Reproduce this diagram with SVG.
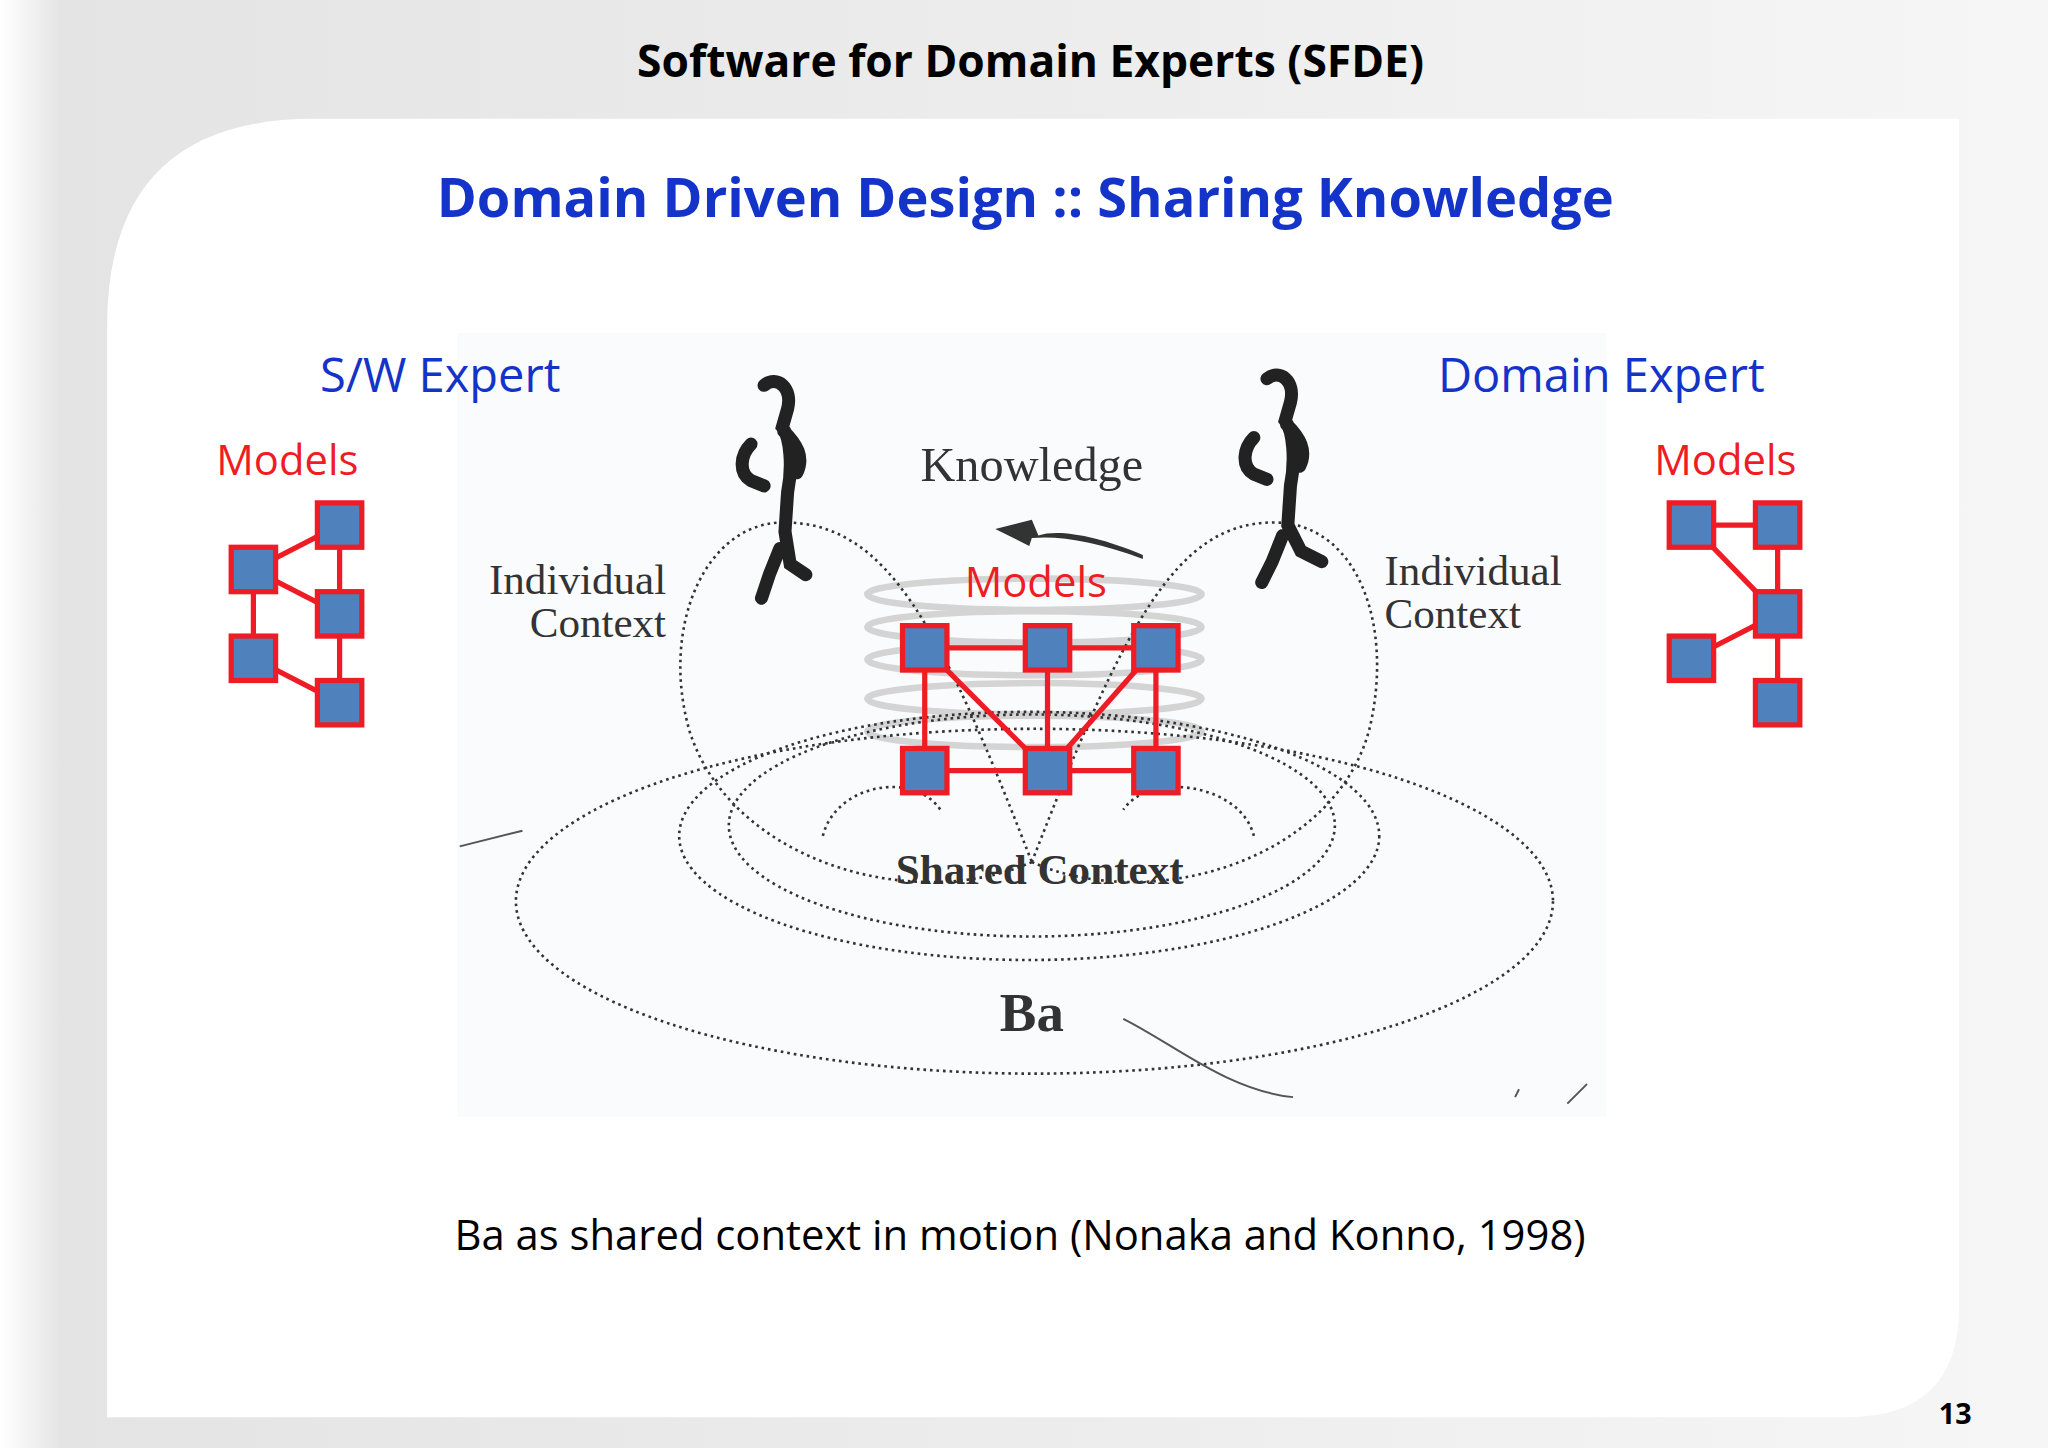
<svg xmlns="http://www.w3.org/2000/svg" width="2048" height="1448" viewBox="0 0 2048 1448">
<defs>
<linearGradient id="bg" x1="0" y1="0" x2="1" y2="0"><stop offset="0" stop-color="#ffffff"/><stop offset="0.03" stop-color="#e4e4e4"/><stop offset="0.5" stop-color="#ececec"/><stop offset="1" stop-color="#f6f6f6"/></linearGradient>
<style>
.n rect{fill:#4f81bd;stroke:#ee1c24;stroke-width:4}
.e line{stroke:#ee1c24;stroke-width:4}
.sans{font-family:"Open Sans","Noto Sans",sans-serif}
.serif{font-family:"Liberation Serif",serif;fill:#333}
.dot{fill:none;stroke:#333;stroke-width:2;stroke-dasharray:2 3}
.coil{fill:none;stroke:#d4d4d4;stroke-width:5}
</style>
</defs>
<g transform="scale(1.30612)">
<rect x="0" y="0" width="1568" height="1109" fill="url(#bg)"/>
<path d="M240 91 H1500 V1000 Q1500 1085 1415 1085 H82 V250 Q82 91 240 91 Z" fill="#fff"/>
<text class="sans" x="789" y="59" font-size="34" font-weight="bold" text-anchor="middle">Software for Domain Experts (SFDE)</text>
<text class="sans" x="785" y="166" font-size="41.5" font-weight="bold" fill="#1433c8" text-anchor="middle">Domain Driven Design :: Sharing Knowledge</text>
<g id="picture">
<rect x="350" y="255" width="880" height="600" fill="#fafbfc"/>
<ellipse class="coil" cx="792" cy="455" rx="128" ry="12"/>
<ellipse class="coil" cx="792" cy="480" rx="128" ry="12"/>
<ellipse class="coil" cx="792" cy="505" rx="128" ry="12"/>
<ellipse class="coil" cx="792" cy="535" rx="128" ry="12"/>
<ellipse class="coil" cx="792" cy="560" rx="128" ry="12"/>
<ellipse class="dot" cx="792" cy="690" rx="397" ry="132"/>
<ellipse class="dot" cx="788" cy="640" rx="268" ry="95"/>
<ellipse class="dot" cx="790" cy="632" rx="232" ry="85"/>
<path class="dot" d="M790 660 C700 700 560 660 528 560 C505 480 540 400 600 400 C680 400 720 480 790 660 Z"/>
<path class="dot" d="M790 660 C880 700 1020 660 1048 560 C1068 480 1040 400 975 400 C900 400 860 480 790 660 Z"/>
<path class="dot" d="M630 640 C640 600 700 590 720 620 M960 640 C950 600 880 590 860 620"/>
<path d="M585 295 c10 -8 22 2 18 18 l-4 14 c6 8 8 30 4 50 l-2 30 4 25 12 8 M597 420 l-8 20 -6 18 M575 340 c-8 8 -10 22 0 28 l10 4 M600 330 c10 10 16 20 10 32" fill="none" stroke="#222" stroke-width="10" stroke-linecap="round"/>
<path d="M970 290 c10 -8 22 2 18 18 l-4 14 c6 8 8 30 4 50 l-2 30 10 20 16 8 M982 410 l-8 20 -8 16 M960 335 c-8 8 -10 22 0 28 l10 4 M985 325 c10 10 16 20 10 32" fill="none" stroke="#222" stroke-width="10" stroke-linecap="round"/>
<path d="M875 425 C840 410 810 405 795 410 L790 398 L762 405 L788 418 L790 412 C812 410 840 415 875 428 Z" fill="#333"/>
<path d="M352 648 L400 636 M860 780 C900 800 940 835 990 840 M1160 840 l3 -6 M1200 845 l15 -15" fill="none" stroke="#555" stroke-width="1.5"/>
<text class="serif" x="790" y="368" font-size="37" text-anchor="middle">Knowledge</text>
<text class="serif" x="510" y="455" font-size="33" text-anchor="end">Individual</text>
<text class="serif" x="510" y="488" font-size="33" text-anchor="end">Context</text>
<text class="serif" x="1060" y="448" font-size="33">Individual</text>
<text class="serif" x="1060" y="481" font-size="33">Context</text>
<text class="serif" x="796" y="677" font-size="33" font-weight="bold" text-anchor="middle">Shared Context</text>
<text class="serif" x="790" y="789" font-size="42" font-weight="bold" text-anchor="middle">Ba</text>
</g>
<text class="sans" x="337" y="300" font-size="36" fill="#1433c8" text-anchor="middle">S/W Expert</text>
<text class="sans" x="1226" y="300" font-size="36" fill="#1433c8" text-anchor="middle">Domain Expert</text>
<text class="sans" x="220" y="364" font-size="32" fill="#ee1c24" text-anchor="middle">Models</text>
<text class="sans" x="1321" y="364" font-size="32" fill="#ee1c24" text-anchor="middle">Models</text>
<text class="sans" x="793" y="457" font-size="32" fill="#ee1c24" text-anchor="middle">Models</text>
<g id="connectors" class="e">
<line x1="194" y1="436" x2="260" y2="402"/><line x1="194" y1="436" x2="260" y2="470"/><line x1="194" y1="436" x2="194" y2="504"/><line x1="260" y1="402" x2="260" y2="538"/><line x1="194" y1="504" x2="260" y2="538"/>
<line x1="1295" y1="402" x2="1361" y2="402"/><line x1="1295" y1="402" x2="1361" y2="470"/><line x1="1361" y1="402" x2="1361" y2="538"/><line x1="1361" y1="470" x2="1295" y2="504"/>
<line x1="708" y1="496" x2="885" y2="496"/><line x1="708" y1="590" x2="885" y2="590"/><line x1="708" y1="496" x2="708" y2="590"/><line x1="802" y1="496" x2="802" y2="590"/><line x1="885" y1="496" x2="885" y2="590"/><line x1="708" y1="496" x2="802" y2="590"/><line x1="885" y1="496" x2="802" y2="590"/>
</g>
<g class="n">
<g id="l1"><rect x="177" y="419" width="34" height="34"/></g>
<g id="l2"><rect x="243" y="385" width="34" height="34"/></g>
<g id="l3"><rect x="243" y="453" width="34" height="34"/></g>
<g id="l4"><rect x="177" y="487" width="34" height="34"/></g>
<g id="l5"><rect x="243" y="521" width="34" height="34"/></g>
<g id="r1"><rect x="1278" y="385" width="34" height="34"/></g>
<g id="r2"><rect x="1344" y="385" width="34" height="34"/></g>
<g id="r3"><rect x="1344" y="453" width="34" height="34"/></g>
<g id="r4"><rect x="1278" y="487" width="34" height="34"/></g>
<g id="r5"><rect x="1344" y="521" width="34" height="34"/></g>
<g id="c1"><rect x="691" y="479" width="34" height="34"/></g>
<g id="c2"><rect x="785" y="479" width="34" height="34"/></g>
<g id="c3"><rect x="868" y="479" width="34" height="34"/></g>
<g id="c4"><rect x="691" y="573" width="34" height="34"/></g>
<g id="c5"><rect x="785" y="573" width="34" height="34"/></g>
<g id="c6"><rect x="868" y="573" width="34" height="34"/></g>
</g>
<text class="sans" x="781" y="957" font-size="32" text-anchor="middle">Ba as shared context in motion (Nonaka and Konno, 1998)</text>
<text class="sans" x="1497" y="1090" font-size="22" font-weight="bold" text-anchor="middle">13</text>
</g>
</svg>
